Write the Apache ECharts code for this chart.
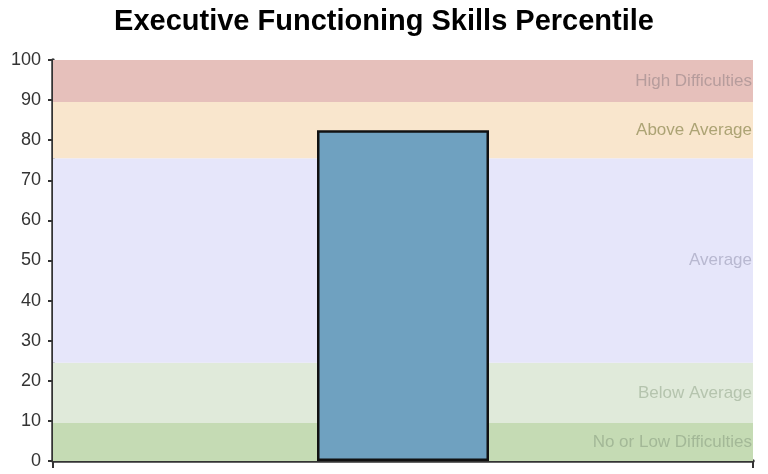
<!DOCTYPE html>
<html>
<head>
<meta charset="utf-8">
<script src="https://cdn.jsdelivr.net/npm/echarts@6/dist/echarts.min.js"></script>
<style>
  html, body { margin: 0; padding: 0; background: #fff; }
  #chart { width: 768px; height: 474px; }
</style>
</head>
<body>
<div id="chart"></div>
<script>
  // Data
  var categories = ['Executive Functioning'];
  var percentiles = [82.5];

  // Interpretation bands (percentile ranges)
  var bandNames = ['No or Low Difficulties', 'Below Average', 'Average', 'Above Average', 'High Difficulties'];
  var bandFrom = [0, 9.5, 24.5, 75.5, 89.5];
  var bandTo = [9.5, 24.5, 75.5, 89.5, 100];
  var bandColors = ['#c5dbb4', '#e0eada', '#e6e6fa', '#f9e6cd', '#e6c0bb'];
  var bandTextColors = ['#a3b897', '#b5c4ae', '#b8b8d0', '#aca374', '#b69c9c'];

  var chart = echarts.init(document.getElementById('chart'));

  var areas = bandNames.map(function (name, i) {
    return [
      {
        name: name,
        yAxis: bandFrom[i],
        itemStyle: { color: bandColors[i], opacity: 1 },
        label: {
          show: true,
          position: 'insideRight',
          distance: 1,
          color: bandTextColors[i],
          fontSize: 17,
          opacity: 1,
          fontFamily: 'Liberation Sans, Arial, sans-serif'
        }
      },
      { yAxis: bandTo[i] }
    ];
  });

  var option = {
    animation: false,
    title: {
      text: 'Executive Functioning Skills Percentile',
      left: 'center',
      top: 2,
      textStyle: {
        fontSize: 29,
        fontWeight: 'bold',
        color: '#000',
        fontFamily: 'Liberation Sans, Arial, sans-serif'
      }
    },
    grid: {
      left: 53,
      right: 15,
      top: 60,
      bottom: 13
    },
    xAxis: {
      type: 'category',
      data: categories,
      axisLine: { lineStyle: { color: '#333', width: 3.5 } },
      axisTick: { show: true, length: 7, lineStyle: { color: '#333', width: 2 } },
      axisLabel: { show: false },
      splitLine: { show: false }
    },
    yAxis: {
      type: 'value',
      min: 0,
      max: 100,
      interval: 10,
      axisLine: { show: true, lineStyle: { color: '#333', width: 3.5 } },
      axisTick: { show: true, length: 5, lineStyle: { color: '#333', width: 2 } },
      axisLabel: {
        color: '#333',
        fontSize: 18,
        margin: 12,
        fontFamily: 'Liberation Sans, Arial, sans-serif'
      },
      splitLine: { show: false }
    },
    series: [
      {
        type: 'bar',
        data: percentiles,
        barWidth: 172,
        z: 3,
        itemStyle: {
          color: '#6fa1c0',
          borderColor: '#111',
          borderWidth: 2.5
        },
        markArea: {
          silent: true,
          z: 1,
          data: areas
        }
      }
    ]
  };

  chart.setOption(option);
</script>
</body>
</html>
